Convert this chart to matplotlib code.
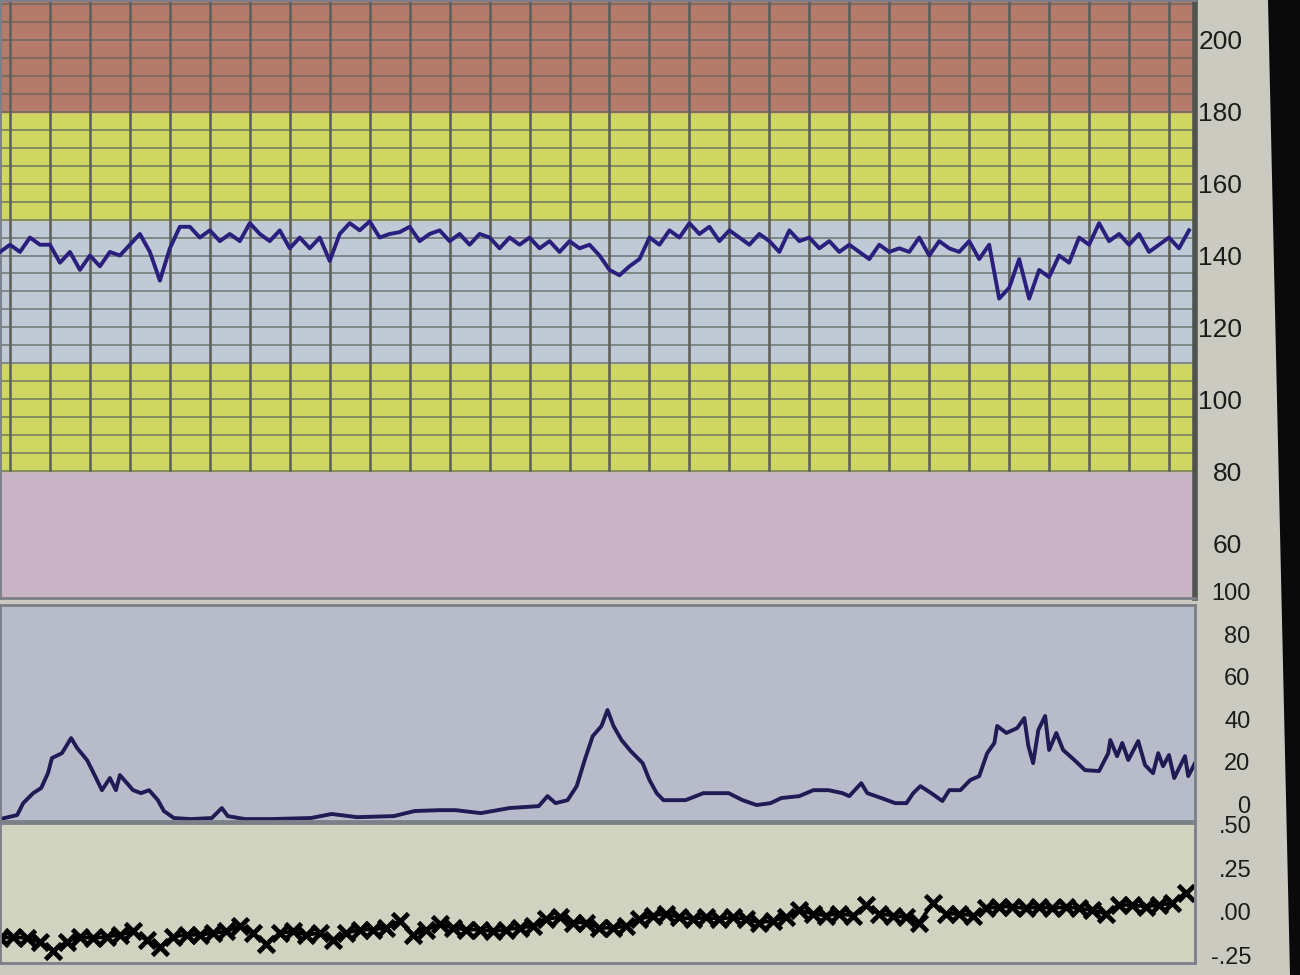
import numpy as np
import matplotlib
matplotlib.use('Agg')
import matplotlib.pyplot as plt
from matplotlib.transforms import ScaledTranslation
from matplotlib.patches import Polygon

# fetal heart rate (bpm), one reading every 15 s
fhr = [141, 143, 141, 145, 143, 143, 138, 141, 136, 140,
       137, 141, 140, 143, 146, 141, 133, 142, 148, 148,
       145, 147, 144, 146, 144, 149, 146, 144, 147, 142,
       145, 142, 145, 138.5, 146, 149, 147, 149.5, 145, 146,
       146.5, 148, 144, 146, 147, 144, 146, 143, 146, 145,
       142, 145, 143, 145, 142, 144, 141, 144, 142, 143,
       140, 136, 134.5, 137, 139, 145, 143, 147, 145, 149,
       146, 148, 144, 147, 145, 143, 146, 144, 141, 147,
       144, 145, 142, 144, 141, 143, 141, 139, 143, 141,
       142, 141, 145, 140, 144, 142, 141, 144, 139, 143,
       128, 131, 139, 128, 136, 134, 140, 138, 145, 143,
       149, 144, 146, 143, 146, 141, 143, 145, 142, 147]
fhr_t = np.arange(len(fhr)) * 0.25

# uterine activity (minutes, value)
uc_t = [0, 0.43, 0.58, 0.83, 1.03, 1.2, 1.3, 1.55, 1.78, 1.93,
        2.18, 2.38, 2.55, 2.75, 2.9, 3.0, 3.33, 3.53, 3.73, 3.95,
        4.1, 4.35, 4.78, 5.3, 5.55, 5.7, 6.13, 6.75, 7.78, 8.3,
        8.93, 9.85, 10.38, 11.0, 11.4, 12.03, 12.75, 13.48, 13.7, 13.9,
        14.2, 14.43, 14.63, 14.83, 15.05, 15.2, 15.35, 15.55, 15.78, 16.08,
        16.25, 16.43, 16.6, 17.15, 17.6, 17.95, 18.23, 18.58, 18.93, 19.28,
        19.55, 20.0, 20.35, 20.73, 21.08, 21.25, 21.55, 21.7, 22.05, 22.4,
        22.68, 22.85, 23.03, 23.3, 23.58, 23.75, 24.03, 24.28, 24.5, 24.7,
        24.88, 24.95, 25.18, 25.45, 25.63, 25.73, 25.85, 25.98, 26.15, 26.25,
        26.43, 26.6, 26.88, 27.15, 27.5, 27.73, 27.78, 27.95, 28.08, 28.23,
        28.48, 28.65, 28.85, 28.98, 29.1, 29.25, 29.38, 29.65, 29.73, 29.9]
uc = [0, 1.9, 7.5, 12.2, 14.6, 21.6, 28.7, 31, 38.1, 33.4,
      27.7, 20.2, 13.6, 19.3, 13.6, 20.7, 13.6, 12.2, 13.6, 8.9,
      3.8, 0.5, 0, 0.5, 5.2, 1.4, 0, 0, 0.5, 2.4,
      0.9, 1.4, 3.8, 4.2, 4.2, 2.8, 5.2, 6.1, 10.8, 7.5,
      8.9, 15.5, 27.8, 39, 43.8, 51.3, 43.8, 37.2, 32, 26.3,
      18.4, 12.2, 8.9, 8.9, 12.2, 12.2, 12.2, 8.9, 6.6, 7.5,
      9.9, 10.8, 13.6, 13.6, 12.2, 10.8, 16.9, 12.2, 9.9, 7.5,
      7.5, 12.2, 15.5, 12.2, 8.5, 13.6, 13.6, 18.4, 20.2, 31,
      35.8, 43.8, 40.5, 42.8, 47.5, 34.4, 26.3, 41.9, 48.5, 32.5,
      40.5, 32.5, 27.8, 23, 22.6, 31, 37.2, 29.6, 35.8, 27.8,
      36.7, 25.4, 21.6, 31, 24.9, 30.1, 19.3, 29.6, 20.2, 26.3]

# movement channel, one mark every 20 s
mov = [-0.15, -0.14, -0.15, -0.17, -0.22, -0.17, -0.14, -0.15, -0.14, -0.13,
       -0.11, -0.16, -0.20, -0.14, -0.13, -0.13, -0.12, -0.11, -0.08, -0.12,
       -0.18, -0.12, -0.11, -0.13, -0.12, -0.16, -0.12, -0.10, -0.10, -0.09,
       -0.05, -0.13, -0.10, -0.07, -0.09, -0.10, -0.10, -0.11, -0.10, -0.09,
       -0.08, -0.04, -0.03, -0.06, -0.06, -0.09, -0.09, -0.08, -0.04, -0.02,
       -0.01, -0.03, -0.04, -0.03, -0.04, -0.03, -0.04, -0.06, -0.05, -0.03,
       0.01, -0.01, -0.02, -0.01, -0.02, 0.04, -0.01, -0.02, -0.03, -0.06,
       0.05, -0.01, -0.01, -0.02, 0.02, 0.03, 0.03, 0.02, 0.03, 0.02,
       0.03, 0.02, 0.01, -0.01, 0.04, 0.04, 0.03, 0.04, 0.05, 0.11]
mov_t = np.arange(len(mov)) / 3

fhr_ticks = [60, 80, 100, 120, 140, 160, 180, 200]
uc_ticks = [0, 20, 40, 60, 80, 100]
mov_ticks = [-0.25, 0.0, 0.25, 0.50]
mov_labels = ['-.25', '.00', '.25', '.50']

# zones of the heart-rate panel
zones = [(44, 80, '#c8b4c4'), (80, 110, '#d0d662'), (110, 150, '#c0c9d6'),
         (150, 180, '#d0d662'), (180, 212, '#b47a6a')]

W, H = 1300, 975
fig = plt.figure(figsize=(13, 9.75), dpi=100, facecolor='#cacac0')

def box(top, bottom, right=1195):
    return [0, 1 - bottom / H, right / W, (bottom - top) / H]

ax1 = fig.add_axes(box(0, 598))
ax2 = fig.add_axes(box(605, 821))
ax3 = fig.add_axes(box(823, 963))

xmax = 29.9
grid_c = '#5e625c'

# heart rate
for lo, hi, c in zones:
    ax1.axhspan(lo, hi, color=c, zorder=0)
ax1.hlines(np.arange(80, 211, 5), 0, xmax, color=grid_c, lw=1.2, alpha=0.75, zorder=1)
ax1.vlines(np.arange(0.25, xmax, 1), 80, 212, color=grid_c, lw=1.9, zorder=1)
ax1.plot(fhr_t, fhr, color='#2a1f7c', lw=2.8, zorder=3)
ax1.set_xlim(0, xmax)
ax1.set_ylim(44.7, 211.1)
ax1.set_yticks(fhr_ticks)

# uterine activity
ax2.set_facecolor('#b8bcca')
ax2.plot(uc_t, uc, color='#201a55', lw=2.8)
ax2.set_xlim(0, xmax)
ax2.set_ylim(-0.9, 100.7)
ax2.set_yticks(uc_ticks)

# movement marks
ax3.set_facecolor('#cfd3bf')
ax3.plot(mov_t, mov, color='black', lw=2.6, marker='x', ms=12, mew=3.4)
ax3.set_xlim(0, xmax)
ax3.set_ylim(-0.29, 0.506)
ax3.set_yticks(mov_ticks, labels=mov_labels)

for ax, pad, size in [(ax1, 34, 19), (ax2, 40, 17), (ax3, 41, 17)]:
    ax.set_xticks([])
    ax.yaxis.tick_right()
    ax.tick_params(axis='y', length=0, pad=pad, labelsize=size, labelcolor='#1c1c1c')
    for lab in ax.get_yticklabels():
        lab.set_fontfamily(['Liberation Sans', 'DejaVu Sans'])
        lab.set_horizontalalignment('right')
    for s in ax.spines.values():
        s.set_color('#7c8088')
        s.set_linewidth(2)

ax1.spines['right'].set_color('#50544f')
ax1.spines['right'].set_linewidth(4)

# labels of the contraction scale sit a little above their values
off = ScaledTranslation(0, 15 / 100, fig.dpi_scale_trans)
for lab in ax2.get_yticklabels():
    lab.set_transform(lab.get_transform() + off)

# monitor bezel on the right
fig.patches.append(Polygon([(1268 / W, 1), (1, 1), (1, 0), (1290 / W, 0)],
                           closed=True, transform=fig.transFigure,
                           facecolor='#0a0a0a', edgecolor='none'))

fig.savefig('out.png', dpi=100, facecolor=fig.get_facecolor())
